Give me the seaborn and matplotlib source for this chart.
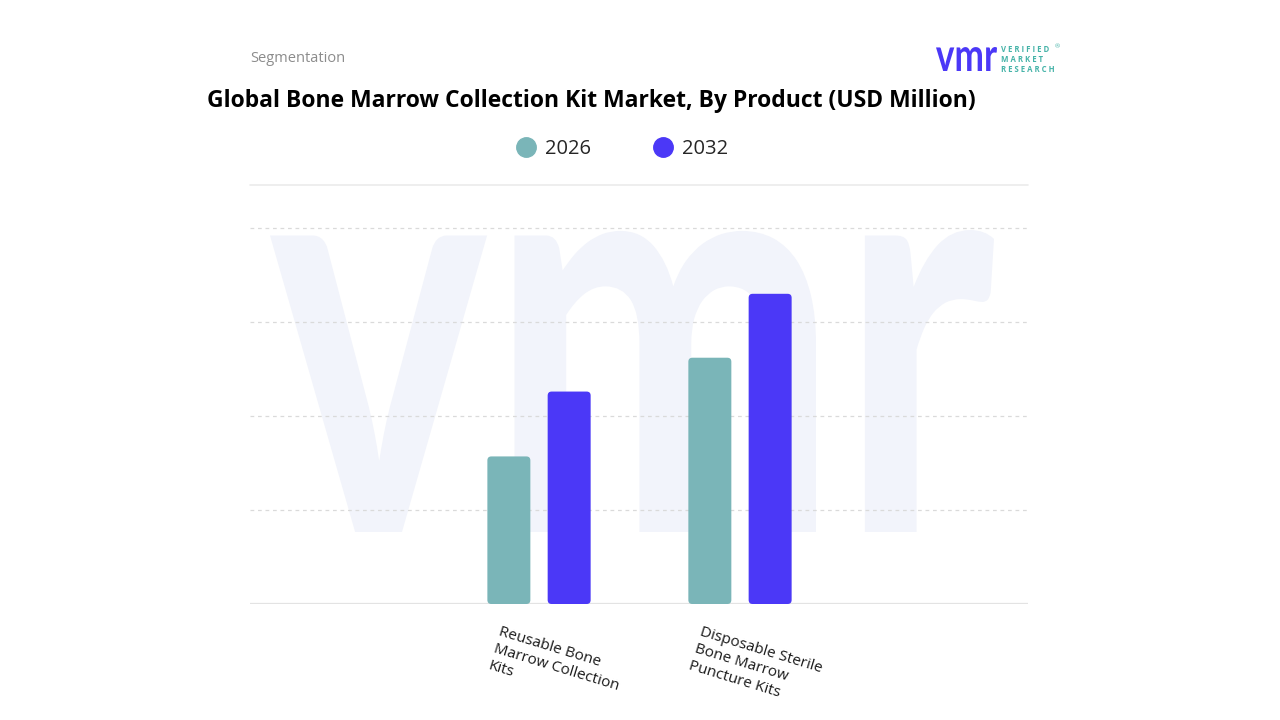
import matplotlib
matplotlib.use("Agg")
import matplotlib.pyplot as plt
import seaborn as sns
import pandas as pd
from matplotlib.patches import FancyBboxPatch, PathPatch
from matplotlib.textpath import TextPath
from matplotlib.font_manager import FontProperties
from matplotlib.lines import Line2D
from matplotlib.transforms import Affine2D, ScaledTranslation

PRODUCTS = ["Reusable Bone\nMarrow Collection\nKits",
            "Disposable Sterile\nBone Marrow\nPuncture Kits"]
YEARS = ["2026", "2032"]
VALUES_2026 = [1.57, 2.62]
VALUES_2032 = [2.26, 3.30]
PALETTE = {"2026": "#7AB5B8", "2032": "#4B38F7"}
GRID_TICKS = [1, 2, 3, 4]
TITLE = "Global Bone Marrow Collection Kit Market, By Product (USD Million)"

sns.set_theme(style="white")
plt.rcParams['font.family'] = ['Open Sans', 'DejaVu Sans']

# long-format table for seaborn
rows = []
for year, vals in zip(YEARS, [VALUES_2026, VALUES_2032]):
    for prod, v in zip(PRODUCTS, vals):
        rows.append({"Product": prod, "Year": year, "Value": v})
df = pd.DataFrame(rows)

W, H = 1280, 720
fig = plt.figure(figsize=(W / 100, H / 100), dpi=100)
fig.patch.set_facecolor("white")

# plot box in pixels (from the reference)
px_left, px_right, px_top, px_bottom = 250, 1028, 185, 604
ax = fig.add_axes([px_left / W, 1 - px_bottom / H,
                   (px_right - px_left) / W, (px_bottom - px_top) / H])
ax.set_facecolor("none")

# faint watermark behind the chart
wm_path = TextPath((0, 0), "vmr", size=1, prop=FontProperties(family="Lato", weight="bold"))
ext = wm_path.get_extents()
x0, x1 = 270 / W, 994 / W
y0, y1 = 1 - 532 / H, 1 - 230 / H
tr = Affine2D().translate(-ext.x0, -ext.y0).scale((x1 - x0) / ext.width,
                                                  (y1 - y0) / ext.height).translate(x0, y0)
fig.add_artist(PathPatch(tr.transform_path(wm_path), transform=fig.transFigure,
                         fc="#F2F4FB", ec="none", zorder=-5))

sns.barplot(data=df, x="Product", y="Value", hue="Year", order=PRODUCTS,
            hue_order=YEARS, palette=PALETTE, width=0.6, gap=0.287,
            saturation=1, legend=False, ax=ax, zorder=3)

xmin, xmax = -1.438, 2.433
ytop = (px_bottom - px_top) / 94
ax.set_xlim(xmin, xmax)
ax.set_ylim(0, ytop)

# rounded bar corners
x_per_px = (xmax - xmin) / (px_right - px_left)
y_per_px = ytop / (px_bottom - px_top)
for bar in list(ax.patches):
    bx, by = bar.get_x(), bar.get_y()
    bw, bh = bar.get_width(), bar.get_height()
    fc = bar.get_facecolor()
    bar.remove()
    ax.add_patch(FancyBboxPatch((bx, by), bw, bh,
                                boxstyle=f"round,pad=0,rounding_size={4 * x_per_px}",
                                mutation_aspect=y_per_px / x_per_px,
                                fc=fc, ec="none", zorder=3))

for t in GRID_TICKS:
    ax.axhline(t, color="#DADADA", lw=0.9, ls=(0, (3, 3)), zorder=1)
ax.axhline(0, color="#E3E3E3", lw=1.6, zorder=2)
ax.axhline(ytop, color="#EBEBEB", lw=1.2, zorder=2, clip_on=False)

for s in ax.spines.values():
    s.set_visible(False)
ax.set_yticks([])
ax.set_xlabel("")
ax.set_ylabel("")
ax.tick_params(axis="x", length=0, pad=15)
ax.set_xticks(range(len(PRODUCTS)))
ax.set_xticklabels(PRODUCTS, rotation=-17, ha="left", va="top",
                   rotation_mode="anchor", fontsize=11, color="#1A1A1A",
                   linespacing=1.25)
shift = ScaledTranslation(-38 / 100, 0, fig.dpi_scale_trans)
for lab in ax.get_xticklabels():
    lab.set_transform(lab.get_transform() + shift)

# legend
handles = [Line2D([], [], marker="o", ls="", ms=14, color=PALETTE[y]) for y in YEARS]
fig.legend(handles, YEARS, loc="center", bbox_to_anchor=(621 / W, 1 - 149 / H),
           ncol=2, frameon=False, fontsize=14.5, columnspacing=3.0,
           handletextpad=0.35, handlelength=1.2)

# header texts
fig.text(250 / W, 1 - 59 / H, "Segmentation", ha="left", va="center",
         fontsize=10.5, color="#8C8C8C")
fig.text(591 / W, 1 - 101 / H, TITLE, ha="center", va="center",
         fontsize=16.5, fontweight="bold", color="#000000")

# logo
logo_path = TextPath((0, 0), "vmr", size=1, prop=FontProperties(family="Lato", weight="bold"))
lext = logo_path.get_extents()
lx0, lx1 = 936 / W, 997 / W
ly0, ly1 = 1 - 71 / H, 1 - 47 / H
ltr = Affine2D().translate(-lext.x0, -lext.y0).scale((lx1 - lx0) / lext.width,
                                                     (ly1 - ly0) / lext.height).translate(lx0, ly0)
fig.add_artist(PathPatch(ltr.transform_path(logo_path), transform=fig.transFigure,
                         fc="#4B38F7", ec="none"))
for i, word in enumerate(["V E R I F I E D", "M A R K E T", "R E S E A R C H"]):
    fig.text(1001 / W, 1 - (50 + 10 * i) / H, word, ha="left", va="center",
             fontsize=5.6, color="#45B3A8", fontweight="bold")
fig.text(1057 / W, 1 - 47 / H, "®", ha="center", va="center", fontsize=4.5, color="#45B3A8")

fig.savefig("out.png", dpi=100)
